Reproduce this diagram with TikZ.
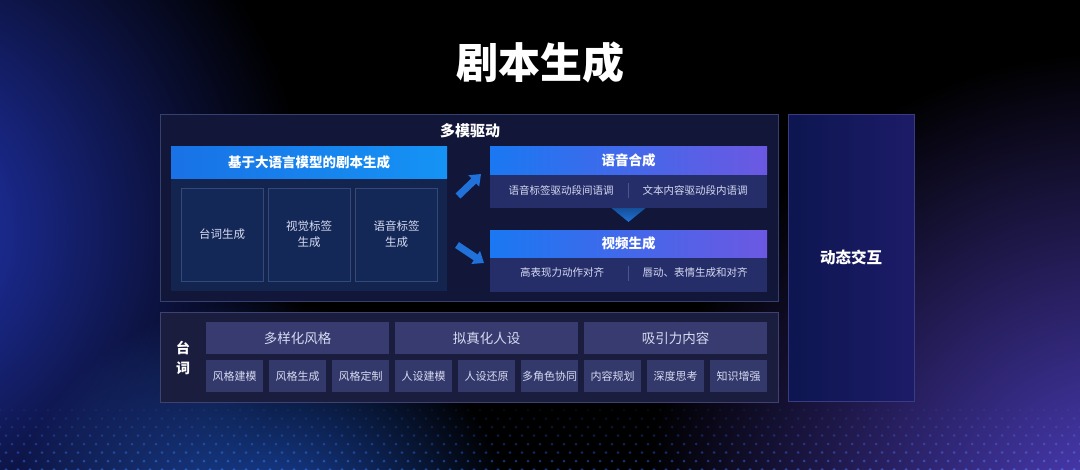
\documentclass[tikz,border=0pt]{standalone}
\usepackage{fontspec}
\newfontfamily\cjk{Noto Sans CJK SC}
\usetikzlibrary{arrows.meta}

\definecolor{glowblue}{HTML}{2438C0}
\definecolor{glowpurple}{HTML}{5040C4}
\definecolor{glowfloor}{HTML}{1E50C0}
\definecolor{panelfill}{HTML}{12173A}
\definecolor{panelline}{HTML}{34406E}
\definecolor{hdrblue}{HTML}{1A78F2}
\definecolor{hdrpurple}{HTML}{6C58E2}
\definecolor{bodyfill}{HTML}{13244E}
\definecolor{cellfill}{HTML}{142857}
\definecolor{cellline}{HTML}{33497A}
\definecolor{subfill}{HTML}{262E6A}
\definecolor{catfill}{HTML}{373B6F}
\definecolor{tagfill}{HTML}{34396B}
\definecolor{lowfill}{HTML}{1A1D3E}
\definecolor{lowline}{HTML}{3E4272}
\definecolor{sideline}{HTML}{3A3C82}
\definecolor{sidel}{HTML}{0D1650}
\definecolor{sider}{HTML}{1C1B68}
\definecolor{txt}{HTML}{D6DBF2}
\definecolor{sep}{HTML}{48539C}
\definecolor{arrowblue}{HTML}{2072DA}

\tikzset{
	panel/.style={draw=panelline, fill=panelfill, line width=1pt, inner sep=0pt, minimum width=618pt},
	hdr/.style={inner sep=0pt, text=white, font=\cjk\bfseries\fontsize{13.5}{15}\selectfont},
	cell/.style={draw=cellline, fill=cellfill, line width=0.8pt, inner sep=0pt, minimum width=82pt, minimum height=93pt, text=txt, align=center, font=\cjk\fontsize{11.5}{16}\selectfont},
	note/.style={inner sep=0pt, text=txt, font=\cjk\fontsize{10.5}{12}\selectfont},
	cat/.style={fill=catfill, inner sep=0pt, minimum width=183pt, minimum height=32pt, text=txt, font=\cjk\fontsize{13.5}{15}\selectfont},
	tag/.style={fill=tagfill, inner sep=0pt, minimum width=57pt, minimum height=32pt, text=txt, font=\cjk\fontsize{11}{13}\selectfont},
	flow/.style={arrowblue, line width=7pt, -{Triangle[length=10pt,width=15pt]}}
}

\begin{document}
\begin{tikzpicture}[x=1pt, y=-1pt]
	\useasboundingbox (0,0) rectangle (1080,469);
	\fill[black] (-10,-10) rectangle (1090,479);
	\begin{scope}[blend mode=screen]
		\clip (-10,-10) rectangle (1090,479);
		\shade[inner color=glowblue, outer color=black] (-120,230) circle (430);
		\shade[inner color=glowpurple, outer color=black] (1120,530) circle (480);
		\shade[inner color=glowfloor, outer color=black] (260,560) circle (260);
		\foreach \r in {0,...,7}
			\foreach \c in {0,...,91}
				\fill[glowfloor, opacity=0.12+0.08*\r] ({\c*12+mod(\r,2)*6}, 410+\r*8.5) circle (1.5);
	\end{scope}

	\node[text=white, font=\cjk\bfseries\fontsize{42}{46}\selectfont] (title) at (540,62) {剧本生成};

	\node[panel, minimum height=187pt] (drive) at (469,207.5) {};
	\node[hdr, font=\cjk\bfseries\fontsize{15}{17}\selectfont] (drivet) at (470,131) {多模驱动};

	\node[fill=bodyfill, inner sep=0pt, minimum width=276pt, minimum height=113pt] (llmbody) at (309,234.5) {};
	\node[hdr, left color=hdrblue!95!black, right color=hdrblue!80!cyan, minimum width=276pt, minimum height=32pt] (llm) at (309,162) {基于大语言模型的剧本生成};
	\node[cell] (line) at (222,234.5) {台词生成};
	\node[cell] (vis) at (309,234.5) {视觉标签\\生成};
	\node[cell] (aud) at (396.5,234.5) {语音标签\\生成};

	\node[fill=subfill, inner sep=0pt, minimum width=277pt, minimum height=34pt] (ttsbody) at (628.5,191) {};
	\node[hdr, left color=hdrblue, right color=hdrpurple, minimum width=277pt, minimum height=28pt] (tts) at (628.5,160) {语音合成};
	\node[note] (tts1) at (561,190) {语音标签驱动段间语调};
	\node[note] (tts2) at (695,190) {文本内容驱动段内语调};
	\draw[sep] (628.5,183) -- (628.5,198);

	\node[fill=subfill, inner sep=0pt, minimum width=277pt, minimum height=35pt] (vidbody) at (628.5,274.5) {};
	\node[hdr, left color=hdrblue, right color=hdrpurple, minimum width=277pt, minimum height=27pt] (vid) at (628.5,243.5) {视频生成};
	\node[note] (vid1) at (562,273) {高表现力动作对齐};
	\node[note] (vid2) at (695,273) {唇动、表情生成和对齐};
	\draw[sep] (628.5,266) -- (628.5,281);

	\fill[top color=arrowblue!70!black, bottom color=arrowblue] (ttsbody.south) ++(-17,0) -- ++(34,0) -- (628.5,222) -- cycle;

	\coordinate (up0) at (458,196);
	\coordinate (up1) at (481,174);
	\coordinate (dn0) at (457,245);
	\coordinate (dn1) at (484,263);
	\draw[flow] (up0) -- (up1);
	\draw[flow] (dn0) -- (dn1);

	\node[panel, draw=lowline, fill=lowfill, minimum height=90pt] (low) at (469,357) {};
	\node[hdr, align=center, font=\cjk\bfseries\fontsize{14}{20}\selectfont] (lowt) at (183,358) {台\\词};
	\foreach \name [count=\j from 0] in {多样化风格,拟真化人设,吸引力内容}
		\node[cat] (cat\j) at (297.5+189*\j,338) {\name};
	\foreach \name [count=\i from 0] in {风格建模,风格生成,风格定制,人设建模,人设还原,多角色协同,内容规划,深度思考,知识增强}
		\node[tag] (tag\i) at (234.5+63*\i,376) {\name};

	\node[draw=sideline, line width=1pt, inner sep=0pt, minimum width=126pt, minimum height=287pt, left color=sidel, right color=sider, text=white, font=\cjk\bfseries\fontsize{15.5}{17}\selectfont] (live) at (851,257.5) {动态交互};
\end{tikzpicture}
\end{document}
